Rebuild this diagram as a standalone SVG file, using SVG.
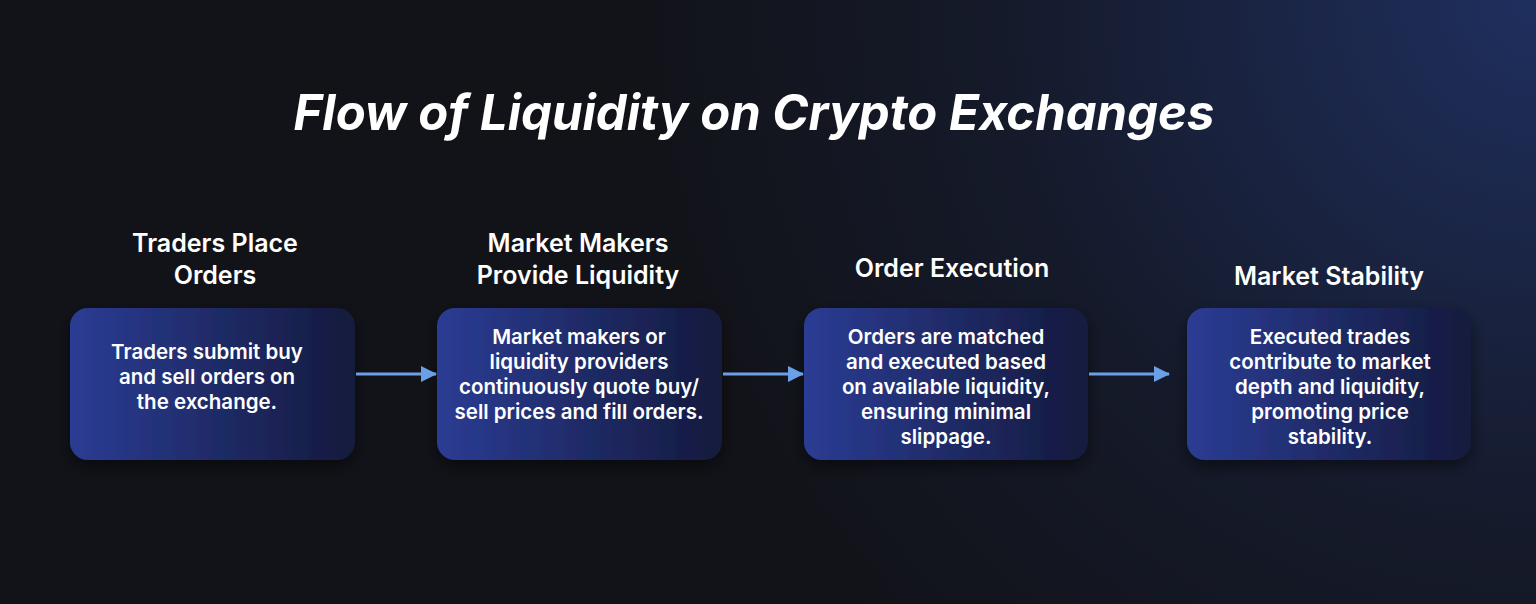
<svg xmlns="http://www.w3.org/2000/svg" width="1536" height="604" viewBox="0 0 1536 604">
<defs>
<radialGradient id="bg" cx="1536" cy="0" r="900" gradientUnits="userSpaceOnUse">
<stop offset="0" stop-color="#1f2f5e"/><stop offset="0.6" stop-color="#151a2a"/><stop offset="1" stop-color="#121319"/>
</radialGradient>
<linearGradient id="box" x1="0" y1="0" x2="1" y2="0">
<stop offset="0" stop-color="#2b3c94"/><stop offset="1" stop-color="#141a3c"/>
</linearGradient>
<filter id="sh" x="-20%" y="-20%" width="140%" height="150%"><feDropShadow dx="0" dy="6" stdDeviation="8" flood-color="#000" flood-opacity="0.5"/></filter>
<marker id="ah" markerWidth="16" markerHeight="16" refX="15" refY="8" orient="auto" markerUnits="userSpaceOnUse"><path d="M0,0 L16,8 L0,16 Z" fill="#6aa0e8"/></marker>
<style>
.t{font-family:Inter,"Noto Sans",sans-serif;fill:#fff;text-anchor:middle;font-weight:600}
.h{font-size:25px}
.b{font-size:20.5px}
.bx{fill:url(#box);filter:url(#sh)}
.c{stroke:#6aa0e8;stroke-width:3;marker-end:url(#ah)}
</style>
</defs>
<rect width="1536" height="604" fill="url(#bg)"/>
<text x="754" y="130" class="t" style="font-size:49px;font-style:italic;font-weight:700">Flow of Liquidity on Crypto Exchanges</text>
<g id="n1"><rect class="bx" x="70" y="308" width="285" height="152" rx="18"/>
<text class="t h" x="215" y="252">Traders Place</text><text class="t h" x="215" y="284">Orders</text>
<text class="t b" x="207" y="359">Traders submit buy</text><text class="t b" x="207" y="384">and sell orders on</text><text class="t b" x="207" y="409">the exchange.</text></g>
<g id="n2"><rect class="bx" x="437" y="308" width="285" height="152" rx="18"/>
<text class="t h" x="578" y="252">Market Makers</text><text class="t h" x="578" y="284">Provide Liquidity</text>
<text class="t b" x="579" y="344">Market makers or</text><text class="t b" x="579" y="369">liquidity providers</text><text class="t b" x="579" y="394">continuously quote buy/</text><text class="t b" x="579" y="419">sell prices and fill orders.</text></g>
<g id="n3"><rect class="bx" x="804" y="308" width="284" height="152" rx="18"/>
<text class="t h" x="952" y="277">Order Execution</text>
<text class="t b" x="946" y="344">Orders are matched</text><text class="t b" x="946" y="369">and executed based</text><text class="t b" x="946" y="394">on available liquidity,</text><text class="t b" x="946" y="419">ensuring minimal</text><text class="t b" x="946" y="444">slippage.</text></g>
<g id="n4"><rect class="bx" x="1187" y="308" width="284" height="152" rx="18"/>
<text class="t h" x="1329" y="285">Market Stability</text>
<text class="t b" x="1330" y="344">Executed trades</text><text class="t b" x="1330" y="369">contribute to market</text><text class="t b" x="1330" y="394">depth and liquidity,</text><text class="t b" x="1330" y="419">promoting price</text><text class="t b" x="1330" y="444">stability.</text></g>
<g id="connectors">
<line class="c" x1="356" y1="374" x2="436" y2="374"/>
<line class="c" x1="723" y1="374" x2="803" y2="374"/>
<line class="c" x1="1089" y1="374" x2="1169" y2="374"/>
</g>
</svg>
